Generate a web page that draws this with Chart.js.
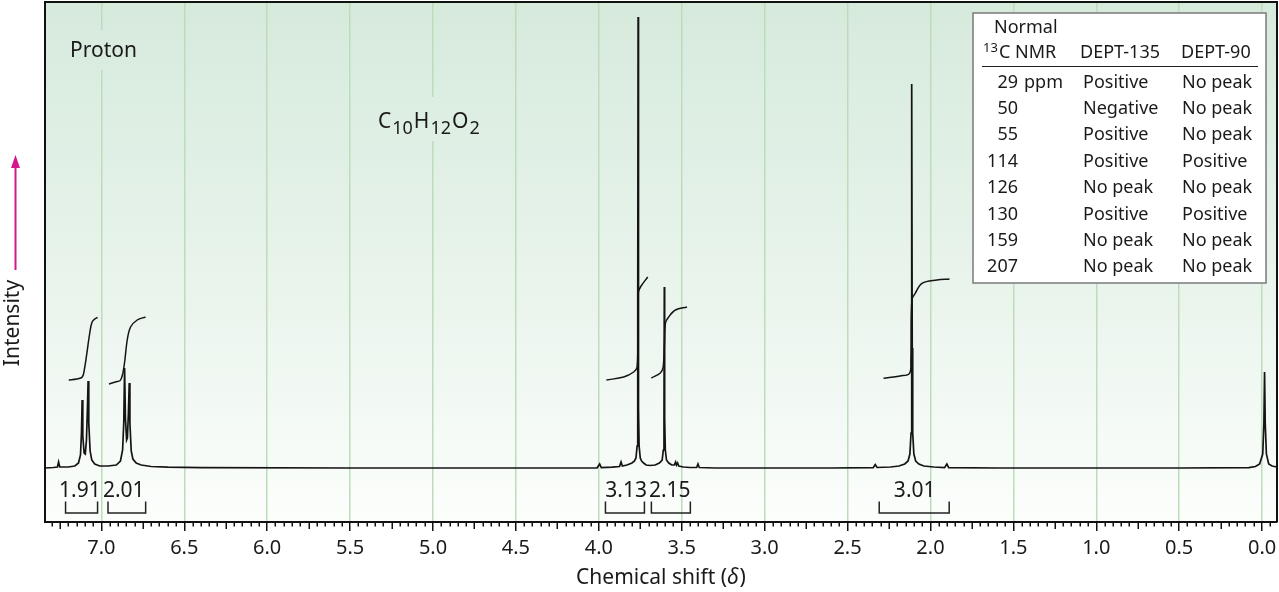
<!DOCTYPE html>
<html>
<head>
<meta charset="utf-8">
<script src="https://cdn.jsdelivr.net/npm/chart.js@4.4.1/dist/chart.umd.min.js"></script>
<style>
  html, body { margin: 0; padding: 0; background: #fff; }
  #wrap { width: 1279px; height: 592px; }
</style>
</head>
<body>
<div id="wrap"><canvas id="nmr" width="1279" height="592"></canvas></div>
<script>
// 1H NMR spectrum of C10H12O2.
// shift in ppm, intensity in arbitrary units (0 = baseline)
const FONT = "'Noto Sans', 'DejaVu Sans', sans-serif";

const spectrumShift = [
  // CHCl3 + aromatic doublets
  7.34, 7.29, 7.265, 7.258, 7.251, 7.20, 7.16, 7.138, 7.126, 7.12, 7.116, 7.112, 7.104, 7.097,
  7.09, 7.084, 7.080, 7.076, 7.068, 7.058, 7.04, 7.01, 6.96, 6.91, 6.885, 6.872, 6.865, 6.860,
  6.855, 6.848, 6.843, 6.837, 6.832, 6.828, 6.82, 6.81, 6.79, 6.76, 6.70, 6.60, 6.40,
  // OCH3 and CH2 singlets
  5.5, 4.2, 4.01, 3.995, 3.985, 3.92, 3.875, 3.866, 3.858, 3.83, 3.80, 3.785, 3.776, 3.769,
  3.766, 3.7645, 3.763, 3.7615, 3.760, 3.757, 3.750, 3.742, 3.73, 3.715, 3.69, 3.66, 3.635, 3.618,
  3.611, 3.607, 3.605, 3.603, 3.599, 3.592, 3.578, 3.56, 3.545, 3.537, 3.532, 3.525, 3.518, 3.49,
  3.45, 3.41, 3.402, 3.394, 3.3,
  // acetyl CH3 and TMS
  2.6, 2.345, 2.333, 2.322, 2.24, 2.19, 2.155, 2.135, 2.124, 2.117, 2.114, 2.112, 2.110, 2.107,
  2.100, 2.089, 2.07, 2.04, 1.98, 1.915, 1.901, 1.89, 1.6, 0.5, 0.08, 0.04, 0.015, -0.004,
  -0.011, -0.015, -0.019, -0.026, -0.04, -0.06, -0.09
];
const spectrumIntensity = [
  0, 0.5, 1, 6, 1, 1, 2, 5, 13, 35, 68, 32, 15, 14,
  28, 60, 87, 45, 17, 8, 4, 2, 2, 3, 7, 18, 45, 100,
  50, 28, 30, 55, 85, 45, 17, 9, 5, 3, 1.5, 0.8, 0.3,
  0, 0, 0.2, 4, 0.3, 0.8, 1.5, 6, 2, 3, 5, 7, 10, 22,
  60, 160, 451, 160, 60, 22, 10, 7, 5, 3, 2.5, 3, 5, 8,
  18, 50, 181, 50, 18, 8, 5, 3, 3, 6, 3, 5, 2, 1,
  0.5, 0.5, 4, 0.5, 0,
  0, 0.3, 3.5, 0.5, 1, 2, 4, 7, 14, 35, 120, 384, 120, 35,
  14, 7, 4, 2, 1, 0.4, 4, 0.4, 0, 0, 0.3, 1.5, 4, 14,
  45, 96, 45, 14, 4, 2, 1
];

// integral traces
const integ1Shift = [7.197, 7.149, 7.115, 7.101, 7.089, 7.071, 7.056, 7.035, 7.023];
const integ1Value = [88, 89, 91, 100, 113, 134, 146, 149.5, 150.5];
const integ2Shift = [6.954, 6.915, 6.884, 6.864, 6.844, 6.824, 6.784, 6.734];
const integ2Value = [84, 86, 88, 101, 128, 141, 148, 151];
const integ3Shift = [3.954, 3.850, 3.790, 3.769, 3.765, 3.762, 3.749, 3.705];
const integ3Value = [88, 91, 96, 101, 140, 175, 181, 191];
const integ4Shift = [3.683, 3.629, 3.612, 3.604, 3.598, 3.579, 3.538, 3.468];
const integ4Value = [90, 95, 101, 125, 145, 151, 158, 161];
const integ5Shift = [2.283, 2.183, 2.126, 2.118, 2.112, 2.092, 2.051, 1.961, 1.885];
const integ5Value = [89.7, 92, 94.7, 108, 168, 174.7, 184.7, 188, 189];

// integration brackets under the baseline
const integralFrom    = [7.216, 6.960, 3.960, 3.683, 2.309];
const integralTo      = [7.023, 6.733, 3.725, 3.448, 1.887];
const integralLabels  = ['1.91', '2.01', '3.13', '2.15', '3.01'];
const integralLabelAt = [7.130, 6.865, 3.835, 3.572, 2.095];

// axis
const majorTickValues = [7.0, 6.5, 6.0, 5.5, 5.0, 4.5, 4.0, 3.5, 3.0, 2.5, 2.0, 1.5, 1.0, 0.5, 0.0];
const majorTickLabels = ['7.0', '6.5', '6.0', '5.5', '5.0', '4.5', '4.0', '3.5', '3.0', '2.5', '2.0', '1.5', '1.0', '0.5', '0.0'];

// 13C / DEPT table
const carbonShift = ['29', '50', '55', '114', '126', '130', '159', '207'];
const dept135     = ['Positive', 'Negative', 'Positive', 'Positive', 'No peak', 'Positive', 'No peak', 'No peak'];
const dept90      = ['No peak', 'No peak', 'No peak', 'Positive', 'No peak', 'Positive', 'No peak', 'No peak'];

function toPoints(xs, ys) {
  return xs.map((x, i) => ({ x: x, y: ys[i] }));
}

// every 0.05 ppm, -0.05 .. 7.30
const xTickValues = [];
for (let i = -1; i <= 146; i++) xTickValues.push(i * 5 / 100);

function tickKind(v) {
  const k = Math.round(v * 100);
  if (k % 50 === 0) return 2;
  if (k % 25 === 0) return 1;
  return 0;
}

function tickLabel(v) {
  const idx = majorTickValues.findIndex(m => Math.abs(m - v) < 1e-6);
  return idx >= 0 ? majorTickLabels[idx] : '';
}

const decor = {
  id: 'decor',

  beforeDraw(chart) {
    const { ctx, chartArea: a } = chart;
    const g = ctx.createLinearGradient(0, a.top, 0, a.bottom);
    g.addColorStop(0, '#d6eadc');
    g.addColorStop(0.6, '#ebf5ee');
    g.addColorStop(1, '#fcfefc');
    chart.$bg = g;
    ctx.save();
    ctx.fillStyle = g;
    ctx.fillRect(a.left, a.top, a.right - a.left, a.bottom - a.top);
    ctx.restore();
  },

  beforeDatasetsDraw(chart) {
    const { ctx } = chart;
    ctx.save();
    // patches so the labels sit over the grid lines
    ctx.fillStyle = chart.$bg;
    ctx.fillRect(66, 30, 78, 40);
    ctx.fillRect(372, 97, 118, 44);

    ctx.fillStyle = '#1a1a1a';
    ctx.textBaseline = 'alphabetic';
    ctx.textAlign = 'left';
    ctx.font = '21px ' + FONT;
    ctx.fillText('Proton', 70, 57);

    // C10H12O2
    let x = 378;
    const parts = [['C', 0], ['10', 1], ['H', 0], ['12', 1], ['O', 0], ['2', 1]];
    parts.forEach(([t, sub]) => {
      ctx.font = (sub ? '18px ' : '21px ') + FONT;
      ctx.fillText(t, x, sub ? 133.5 : 128);
      x += ctx.measureText(t).width + 1;
    });
    ctx.restore();
  },

  afterDraw(chart) {
    const { ctx, chartArea: a } = chart;
    const xs = chart.scales.x;
    const ys = chart.scales.y;
    ctx.save();

    // frame
    ctx.strokeStyle = '#111';
    ctx.lineWidth = 2;
    ctx.beginPath();
    ctx.moveTo(a.left, a.bottom);
    ctx.lineTo(a.left, a.top);
    ctx.lineTo(a.right, a.top);
    ctx.lineTo(a.right, a.bottom);
    ctx.stroke();

    // minor / medium ticks
    ctx.lineWidth = 1.5;
    xs.ticks.forEach(t => {
      const kind = tickKind(t.value);
      if (kind === 2) return;
      const px = Math.round(xs.getPixelForValue(t.value)) + 0.25;
      ctx.beginPath();
      ctx.moveTo(px, a.bottom);
      ctx.lineTo(px, a.bottom + (kind === 1 ? 7 : 4.5));
      ctx.stroke();
    });

    // integration brackets
    ctx.strokeStyle = '#222';
    ctx.lineWidth = 1.5;
    const yTop = ys.getPixelForValue(-33.5);
    const yBot = ys.getPixelForValue(-45);
    integralFrom.forEach((f, i) => {
      const x1 = xs.getPixelForValue(f);
      const x2 = xs.getPixelForValue(integralTo[i]);
      ctx.beginPath();
      ctx.moveTo(x1, yTop);
      ctx.lineTo(x1, yBot);
      ctx.lineTo(x2, yBot);
      ctx.lineTo(x2, yTop);
      ctx.stroke();
    });
    ctx.fillStyle = '#1a1a1a';
    ctx.font = '21px ' + FONT;
    ctx.textAlign = 'center';
    ctx.textBaseline = 'middle';
    integralLabels.forEach((lab, i) => {
      ctx.fillText(lab, xs.getPixelForValue(integralLabelAt[i]), ys.getPixelForValue(-23));
    });

    // axis title with italic delta
    ctx.textAlign = 'left';
    ctx.font = '21px ' + FONT;
    const t1 = 'Chemical shift (';
    const w1 = ctx.measureText(t1).width;
    ctx.font = 'italic 21px ' + FONT;
    const w2 = ctx.measureText('δ').width;
    ctx.font = '21px ' + FONT;
    const w3 = ctx.measureText(')').width;
    let tx = 661 - (w1 + w2 + w3 + 1) / 2;
    ctx.fillText(t1, tx, 578);
    ctx.font = 'italic 21px ' + FONT;
    ctx.fillText('δ', tx + w1, 578);
    ctx.font = '21px ' + FONT;
    ctx.fillText(')', tx + w1 + w2 + 1, 578);

    // y label and arrow
    ctx.save();
    ctx.translate(13, 323);
    ctx.rotate(-Math.PI / 2);
    ctx.textAlign = 'center';
    ctx.font = '21px ' + FONT;
    ctx.fillText('Intensity', 0, 0);
    ctx.restore();
    ctx.strokeStyle = '#d5168a';
    ctx.fillStyle = '#d5168a';
    ctx.lineWidth = 2;
    ctx.beginPath();
    ctx.moveTo(15.5, 270);
    ctx.lineTo(15.5, 166);
    ctx.stroke();
    ctx.beginPath();
    ctx.moveTo(15.5, 155);
    ctx.lineTo(11, 168);
    ctx.lineTo(20, 168);
    ctx.closePath();
    ctx.fill();

    // 13C NMR / DEPT table
    ctx.fillStyle = '#fff';
    ctx.fillRect(973, 13, 293, 270);
    ctx.strokeStyle = '#7a7a7a';
    ctx.lineWidth = 1.5;
    ctx.strokeRect(973, 13, 293, 270);
    ctx.strokeStyle = '#222';
    ctx.lineWidth = 1.2;
    ctx.beginPath();
    ctx.moveTo(982, 66.5);
    ctx.lineTo(1258, 66.5);
    ctx.stroke();

    ctx.fillStyle = '#1a1a1a';
    ctx.textBaseline = 'middle';
    ctx.textAlign = 'left';
    ctx.font = '18px ' + FONT;
    ctx.fillText('Normal', 994, 28);
    ctx.font = '13px ' + FONT;
    ctx.fillText('13', 983, 48);
    ctx.font = '18px ' + FONT;
    ctx.fillText('C NMR', 999, 53);
    ctx.fillText('DEPT-135', 1080, 53);
    ctx.fillText('DEPT-90', 1181, 53);
    carbonShift.forEach((c, i) => {
      const ry = 82.5 + i * 26.4;
      ctx.textAlign = 'right';
      ctx.fillText(c, 1018, ry);
      ctx.textAlign = 'left';
      if (i === 0) ctx.fillText('ppm', 1024, ry);
      ctx.fillText(dept135[i], 1083, ry);
      ctx.fillText(dept90[i], 1182, ry);
    });

    ctx.restore();
  }
};

const lineStyle = { borderColor: '#141414', pointRadius: 0, fill: false };

new Chart(document.getElementById('nmr'), {
  type: 'line',
  data: {
    datasets: [
      Object.assign({ data: toPoints(spectrumShift, spectrumIntensity), borderWidth: 1.7, tension: 0 }, lineStyle),
      Object.assign({ data: toPoints(integ1Shift, integ1Value), borderWidth: 1.5, tension: 0.35 }, lineStyle),
      Object.assign({ data: toPoints(integ2Shift, integ2Value), borderWidth: 1.5, tension: 0.35 }, lineStyle),
      Object.assign({ data: toPoints(integ3Shift, integ3Value), borderWidth: 1.5, tension: 0.35 }, lineStyle),
      Object.assign({ data: toPoints(integ4Shift, integ4Value), borderWidth: 1.5, tension: 0.35 }, lineStyle),
      Object.assign({ data: toPoints(integ5Shift, integ5Value), borderWidth: 1.5, tension: 0.35 }, lineStyle)
    ]
  },
  plugins: [decor],
  options: {
    responsive: false,
    animation: false,
    devicePixelRatio: 1,
    layout: { padding: { left: 45, right: 2, top: 2, bottom: 0 } },
    plugins: {
      legend: { display: false },
      tooltip: { enabled: false }
    },
    scales: {
      x: {
        type: 'linear',
        reverse: true,
        min: -0.09,
        max: 7.34,
        afterBuildTicks: s => { s.ticks = xTickValues.map(v => ({ value: v })); },
        afterFit: s => { s.height = 70; },
        grid: {
          drawOnChartArea: true,
          color: c => (c.tick && tickKind(c.tick.value) === 2) ? '#bddcba' : 'rgba(0,0,0,0)',
          lineWidth: 1.5,
          drawTicks: true,
          tickLength: 9,
          tickColor: c => (c.tick && tickKind(c.tick.value) === 2) ? '#111' : 'rgba(0,0,0,0)',
          tickWidth: 1.5
        },
        border: { display: true, color: '#111', width: 2 },
        ticks: {
          autoSkip: false,
          maxRotation: 0,
          minRotation: 0,
          padding: 5,
          color: '#1a1a1a',
          font: { family: FONT, size: 20 },
          callback: v => tickLabel(v)
        }
      },
      y: {
        type: 'linear',
        display: false,
        min: -54,
        max: 466
      }
    }
  }
});
</script>
</body>
</html>
